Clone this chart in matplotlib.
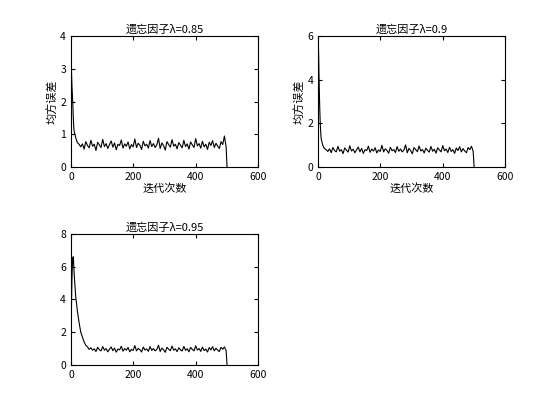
import numpy as np
import matplotlib
matplotlib.use('Agg')
import matplotlib.pyplot as plt

plt.rcParams['font.family'] = ['Noto Sans CJK SC', 'DejaVu Sans']

mse_085 = [3.1, 2.8, 2.5, 2.3, 2.1, 1.9, 1.6, 1.4, 1.2, 1.1, 0.9, 0.75, 0.7,
           0.62, 0.71, 0.55, 0.78, 0.66, 0.59, 0.82, 0.64, 0.7, 0.51, 0.76, 0.68,
           0.6, 0.85, 0.63, 0.72, 0.57, 0.69, 0.8, 0.61, 0.74, 0.53, 0.7, 0.66,
           0.83, 0.58, 0.71, 0.64, 0.77, 0.56, 0.69, 0.62, 0.86, 0.6, 0.73, 0.67,
           0.54, 0.79, 0.65, 0.7, 0.58, 0.81, 0.63, 0.72, 0.6, 0.68, 0.88, 0.57,
           0.74, 0.66, 0.52, 0.78, 0.69, 0.61, 0.84, 0.64, 0.7, 0.56, 0.75, 0.67,
           0.59, 0.82, 0.63, 0.71, 0.55, 0.77, 0.68, 0.6, 0.87, 0.65, 0.72, 0.58,
           0.79, 0.62, 0.7, 0.54, 0.76, 0.66, 0.81, 0.6, 0.73, 0.64, 0.57, 0.78,
           0.69, 0.95, 0.62, 0.0]
mse_09 = [5.6, 5.0, 4.2, 3.5, 2.9, 2.4, 2.0, 1.7, 1.5, 1.3, 1.0, 0.85, 0.8,
          0.72, 0.84, 0.66, 0.9, 0.76, 0.7, 0.95, 0.73, 0.8, 0.62, 0.88, 0.78,
          0.69, 0.98, 0.74, 0.82, 0.66, 0.79, 0.92, 0.7, 0.86, 0.63, 0.8, 0.76,
          0.96, 0.68, 0.83, 0.74, 0.89, 0.65, 0.79, 0.72, 1.0, 0.7, 0.84, 0.77,
          0.64, 0.91, 0.75, 0.81, 0.67, 0.94, 0.73, 0.83, 0.7, 0.78, 1.02, 0.66,
          0.86, 0.76, 0.61, 0.9, 0.8, 0.71, 0.97, 0.74, 0.81, 0.65, 0.87, 0.77,
          0.69, 0.95, 0.73, 0.82, 0.64, 0.89, 0.79, 0.7, 0.99, 0.75, 0.83, 0.67,
          0.91, 0.72, 0.8, 0.63, 0.88, 0.76, 0.94, 0.7, 0.85, 0.74, 0.66, 0.9,
          0.8, 0.96, 0.72, 0.0]
mse_095 = [3.0, 4.2, 5.2, 5.9, 6.3, 6.5, 6.6, 6.4, 6.0, 5.6, 4.2, 3.3, 2.6,
           2.0, 1.7, 1.4, 1.2, 1.1, 0.95, 1.05, 0.9, 0.98, 0.82, 1.08, 0.93,
           0.86, 1.12, 0.9, 1.0, 0.8, 0.96, 1.1, 0.87, 1.03, 0.78, 0.97, 0.92,
           1.14, 0.84, 1.0, 0.9, 1.07, 0.8, 0.95, 0.88, 1.18, 0.86, 1.01, 0.93,
           0.79, 1.09, 0.91, 0.98, 0.83, 1.12, 0.89, 1.0, 0.86, 0.94, 1.2, 0.82,
           1.03, 0.92, 0.77, 1.08, 0.96, 0.87, 1.15, 0.9, 0.98, 0.81, 1.05, 0.93,
           0.85, 1.13, 0.89, 0.99, 0.8, 1.07, 0.95, 0.86, 1.17, 0.91, 1.0, 0.83,
           1.09, 0.88, 0.97, 0.79, 1.06, 0.92, 1.12, 0.86, 1.02, 0.9, 0.82, 1.08,
           0.96, 1.1, 0.88, 0.0]

# iteration positions: first 10 iterations, then evenly spaced samples, final point at 500
n = len(mse_085)
iters = list(range(1, 11)) + list(np.linspace(15, 497, n - 11)) + [500]

titles = ['遗忘因子λ=0.85', '遗忘因子λ=0.9', '遗忘因子λ=0.95']
ylims = [4, 6, 8]
series = [mse_085, mse_09, mse_095]
positions = [[0.127, 0.601, 0.335, 0.313],
             [0.569, 0.601, 0.335, 0.313],
             [0.127, 0.129, 0.335, 0.313]]

fig = plt.figure(figsize=(5.59, 4.19), dpi=100)
for i in range(3):
    ax = fig.add_axes(positions[i])
    ax.plot(iters, series[i], color='black', linewidth=0.8)
    ax.set_xlim(0, 600)
    ax.set_ylim(0, ylims[i])
    ax.set_xticks([0, 200, 400, 600])
    ax.set_yticks(np.arange(0, ylims[i] + 1, 2 if ylims[i] > 4 else 1))
    ax.tick_params(labelsize=7.5, direction='in', length=3, top=True, right=True)
    ax.set_title(titles[i], fontsize=8, pad=2)
    if i < 2:
        ax.set_xlabel('迭代次数', fontsize=8, labelpad=1)
        ax.set_ylabel('均方误差', fontsize=8, labelpad=2)

fig.savefig('out.png')
